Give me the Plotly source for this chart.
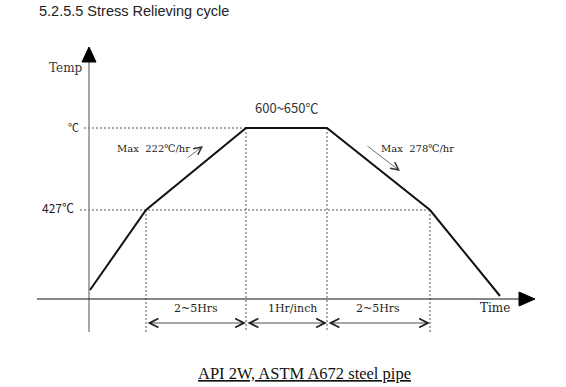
import plotly.graph_objects as go

# ---- schematic data (diagram units: time along x, temperature along y) ----
cycle_time = [1, 57, 157, 238, 341, 411]
cycle_temp = [9, 89, 171, 171, 89, 3]

phase_bounds = [57, 157, 238, 341]          # vertical guide positions (time)
phase_labels = ["2~5Hrs", "1Hr/inch", "2~5Hrs"]
level_427 = 89
level_hold = 171
level_labels = ["427℃", "℃"]
hold_label = "600~650℃"
rate_labels = ["Max\u00a0 222℃/hr", "Max\u00a0 278℃/hr"]

title_text = "5.2.5.5 Stress Relieving cycle"
caption_text = "API 2W, ASTM A672 steel pipe"

W, H = 566, 387
X0, Y0 = 89, 299  # origin of the diagram on the page
xr = [-X0, W - X0]
yr = [Y0 - H, Y0]

SERIF = "DejaVu Serif"
SANS = "Noto Sans CJK KR"

fig = go.Figure()

guide = dict(color="#555555", width=1, dash="2px,2px")

# horizontal dotted guides
fig.add_trace(go.Scatter(x=[-5, phase_bounds[1]], y=[level_hold, level_hold], mode="lines",
                         line=guide, hoverinfo="skip"))
fig.add_trace(go.Scatter(x=[-9, phase_bounds[3]], y=[level_427, level_427], mode="lines",
                         line=guide, hoverinfo="skip"))
# vertical dotted guides
dim_bottom = -33
for xb, top in zip(phase_bounds, [level_427, level_hold, level_hold, level_427]):
    fig.add_trace(go.Scatter(x=[xb, xb], y=[top, dim_bottom], mode="lines",
                             line=guide, hoverinfo="skip"))

# axes
fig.add_trace(go.Scatter(x=[0, 0], y=[237, -33], mode="lines",
                         line=dict(color="#8a8a8a", width=1.5), hoverinfo="skip"))
fig.add_trace(go.Scatter(x=[-52, 431], y=[0, 0], mode="lines",
                         line=dict(color="#111111", width=1), hoverinfo="skip"))
# axis arrowheads
fig.add_trace(go.Scatter(x=[0, -7, 7, 0], y=[252, 237, 237, 252], mode="lines",
                         fill="toself", fillcolor="#000000",
                         line=dict(color="#000000", width=1), hoverinfo="skip"))
fig.add_trace(go.Scatter(x=[446, 430, 430, 446], y=[0, 7, -7, 0], mode="lines",
                         fill="toself", fillcolor="#000000",
                         line=dict(color="#000000", width=1), hoverinfo="skip"))

# the cycle curve
fig.add_trace(go.Scatter(x=cycle_time, y=cycle_temp, mode="lines",
                         line=dict(color="#111111", width=2), hoverinfo="skip"))

annotations = []
# dimension arrows
dim_y = -24
for a, b in zip(phase_bounds[:-1], phase_bounds[1:]):
    annotations.append(dict(x=b, y=dim_y, ax=a, ay=dim_y, xref="x", yref="y",
                            axref="x", ayref="y", text="", showarrow=True,
                            arrowhead=5, startarrowhead=5, arrowside="end+start",
                            arrowsize=2.2, startarrowsize=2.2, arrowwidth=0.8,
                            arrowcolor="#222222", standoff=0, startstandoff=0))
# rate arrows
annotations.append(dict(x=114, y=153, ax=97, ay=140, xref="x", yref="y",
                        axref="x", ayref="y", text="", showarrow=True,
                        arrowhead=5, arrowsize=2.2, arrowwidth=0.7, arrowcolor="#333333"))
annotations.append(dict(x=311, y=128, ax=277, ay=154, xref="x", yref="y",
                        axref="x", ayref="y", text="", showarrow=True,
                        arrowhead=5, arrowsize=2.2, arrowwidth=0.7, arrowcolor="#333333"))

def label(x, y, text, size, family, color="#222222", anchor="center"):
    annotations.append(dict(x=x, y=y, xref="x", yref="y", text=text, showarrow=False,
                            xanchor=anchor, yanchor="middle",
                            font=dict(size=size, family=family, color=color)))

label(-23, 231, "Temp", 12, SERIF, color="#333333")
label(-16, 172, level_labels[1], 11, SANS)
label(-31, 92, level_labels[0], 12, SANS)
label(198, 192, hold_label, 13, SANS, color="#333333")
label(64, 151, rate_labels[0], 10, SERIF)
label(328, 151, rate_labels[1], 10, SERIF)
for xc, t in zip([107, 203, 289], phase_labels):
    label(xc, -9, t, 11, SERIF)
label(406, -9, "Time", 12, SERIF)

annotations.append(dict(x=37 / W, y=1 - 11 / H, xref="paper", yref="paper", text=title_text,
                        showarrow=False, xanchor="left", yanchor="middle",
                        font=dict(size=14.5, family="Liberation Sans", color="#222222")))
annotations.append(dict(x=304 / W, y=1 - 373 / H, xref="paper", yref="paper",
                        text="<u>" + caption_text + "</u>",
                        showarrow=False, xanchor="center", yanchor="middle",
                        font=dict(size=16.5, family="Liberation Serif", color="#111111")))

fig.update_layout(
    width=W, height=H,
    margin=dict(l=0, r=0, t=0, b=0),
    paper_bgcolor="white", plot_bgcolor="white",
    showlegend=False,
    xaxis=dict(range=xr, visible=False, fixedrange=True),
    yaxis=dict(range=yr, visible=False, fixedrange=True),
    annotations=annotations,
)

fig.write_html("out.html", config={"displayModeBar": False},
               post_script="document.body.style.margin='0';")
